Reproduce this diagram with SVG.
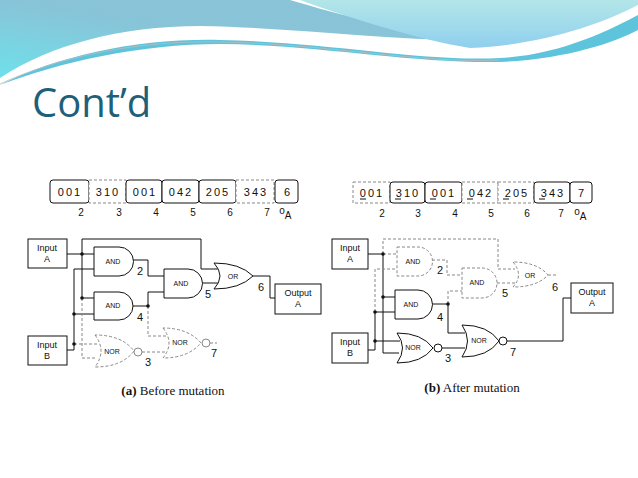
<svg xmlns="http://www.w3.org/2000/svg" width="638" height="478" viewBox="0 0 638 478">
<defs>
<linearGradient id="gl" x1="0" y1="1" x2="1" y2="0"><stop offset="0" stop-color="#6fe0ea"/><stop offset="0.5" stop-color="#88c4d8"/><stop offset="1" stop-color="#8bc3d8"/></linearGradient>
<linearGradient id="gr" x1="0" y1="0" x2="0" y2="1"><stop offset="0" stop-color="#b3e6e8"/><stop offset="1" stop-color="#8fcfee"/></linearGradient>
<style>
.s{fill:#fff;stroke:#111;stroke-width:1}
.d{fill:#fff;stroke:#888;stroke-width:1;stroke-dasharray:3 2}
.w{fill:none;stroke:#111;stroke-width:1}
.wd{fill:none;stroke:#888;stroke-width:1;stroke-dasharray:3 2}
.dot{fill:#111}
text{font-family:"Liberation Sans",Arial,sans-serif;fill:#111}
.g{font-size:7px;text-anchor:middle}
.b{font-size:9px;text-anchor:middle}
.l{font-size:10px;text-anchor:middle}
.n{font-size:11px;text-anchor:middle}
.c{font-size:11px;letter-spacing:2px;text-anchor:middle}
.cap{font-family:"Liberation Serif",serif;font-size:13px;text-anchor:middle}
</style>
</defs>
<rect width="638" height="478" fill="#fff"/>
<g id="header">
<path d="M0,0 H290 C340,15 400,30 470,40 C380,40 300,28 200,26 C120,26 50,45 0,78 Z" fill="url(#gl)"/>
<path d="M300,0 H638 V5 C600,25 540,45 470,48 C420,40 350,18 300,0 Z" fill="url(#gr)"/>
<path d="M0,85 C60,55 140,38 220,40 C330,42 420,62 500,58 C560,55 610,30 638,15 V30 C600,50 540,62 490,62 C400,62 320,45 220,44 C140,44 60,62 0,85 Z" fill="#5ec4dc"/>
<path d="M0,84 C60,56 140,40 220,42 C330,44 420,64 500,60" fill="none" stroke="#bbb" stroke-width="0.8"/>
</g>
<text x="32" y="117" style="font-family:'Open Sans',sans-serif;font-size:40px;fill:#1f5f7a">Cont’d</text>

<g id="panelA">
<g id="chromA">
<rect x="50" y="180" width="39" height="23" rx="3" class="s"/>
<rect x="89" y="180" width="37" height="23" class="d"/>
<rect x="126" y="180" width="36" height="23" rx="3" class="s"/>
<rect x="162" y="180" width="37" height="23" rx="3" class="s"/>
<rect x="199" y="180" width="37" height="23" rx="3" class="s"/>
<rect x="236" y="180" width="38" height="23" class="d"/>
<rect x="275" y="180" width="23" height="23" rx="3" class="s"/>
<text x="70" y="196" class="c">001</text><text x="108" y="196" class="c">310</text><text x="145" y="196" class="c">001</text><text x="181" y="196" class="c">042</text><text x="218" y="196" class="c">205</text><text x="256" y="196" class="c">343</text><text x="287" y="196" class="n">6</text>
<text x="81" y="216" class="l">2</text><text x="119" y="216" class="l">3</text><text x="156" y="216" class="l">4</text><text x="193" y="216" class="l">5</text><text x="230" y="216" class="l">6</text><text x="267" y="216" class="l">7</text>
<text x="282" y="214" class="l">o</text><text x="288" y="219" class="l">A</text>
</g>
<g id="connA">
<path class="w" d="M67,254 H94 M82,254 V298 H94 M82,254 V239 H201 V269 H218 M67,350 H74 V269 H94 M74,314 H94 M133,260 H148 V276 H164 M133,306 H148 V292 H164 M202,283 H220 M253,276 H270 V298 H275"/>
<path class="wd" d="M74,344 H97 M82,298 V358 H97 M148,306 V336 H166 M142,352 H166 M210,343 H217"/>
<circle class="dot" cx="82" cy="254" r="1.8"/><circle class="dot" cx="82" cy="298" r="1.8"/><circle class="dot" cx="74" cy="314" r="1.8"/><circle class="dot" cx="74" cy="344" r="1.8"/><circle class="dot" cx="148" cy="306" r="1.8"/>
</g>
<g id="inA"><rect x="28" y="239" width="39" height="29" class="s"/><text x="47" y="251" class="b">Input</text><text x="47" y="262" class="b">A</text></g>
<g id="inB"><rect x="28" y="336" width="39" height="29" class="s"/><text x="47" y="348" class="b">Input</text><text x="47" y="359" class="b">B</text></g>
<g id="outA"><rect x="275" y="284" width="46" height="30" class="s"/><text x="298" y="296" class="b">Output</text><text x="298" y="307" class="b">A</text></g>
<g id="and2"><path class="s" d="M94,247 H119 A14.5,14.5 0 0 1 119,276 H94 Z"/><text x="113" y="264" class="g">AND</text></g>
<g id="and4"><path class="s" d="M94,292 H119 A14,14 0 0 1 119,320 H94 Z"/><text x="113" y="308" class="g">AND</text></g>
<g id="and5"><path class="s" d="M164,269 H188 A14.5,14.5 0 0 1 188,298 H164 Z"/><text x="181" y="286" class="g">AND</text></g>
<g id="or6"><path class="s" d="M214,263 Q226,276 214,289 Q240,289 253,276 Q240,263 214,263 Z"/><text x="233" y="279" class="g">OR</text></g>
<g id="nor3"><path class="d" d="M95,335 Q107,351 95,367 Q122,367 134,351 Q122,335 95,335 Z"/><circle cx="138" cy="352" r="4" class="d" style="stroke-dasharray:none"/><text x="112" y="354" class="g">NOR</text></g>
<g id="nor7"><path class="d" d="M163,328 Q175,343 163,358 Q188,358 201,343 Q188,328 163,328 Z"/><circle cx="206" cy="343" r="4" class="d" style="stroke-dasharray:none"/><text x="180" y="345" class="g">NOR</text></g>
<text x="140" y="275" class="n">2</text><text x="140" y="321" class="n">4</text><text x="208" y="298" class="n">5</text><text x="261" y="291" class="n">6</text><text x="148" y="366" class="n">3</text><text x="214" y="357" class="n">7</text>
<text x="173" y="395" class="cap"><tspan font-weight="bold">(a)</tspan> Before mutation</text>
</g>

<g id="panelB">
<g id="chromB">
<rect x="353" y="182" width="37" height="21" class="d"/>
<rect x="390" y="182" width="35" height="21" rx="3" class="s"/>
<rect x="425" y="182" width="37" height="21" rx="3" class="s"/>
<rect x="462" y="182" width="36" height="21" class="d"/>
<rect x="498" y="182" width="36" height="21" class="d"/>
<rect x="534" y="182" width="36" height="21" rx="3" class="s"/>
<rect x="570" y="182" width="22" height="21" rx="3" class="s"/>
<text x="372" y="197" class="c">001</text><text x="408" y="197" class="c">310</text><text x="444" y="197" class="c">001</text><text x="481" y="197" class="c">042</text><text x="517" y="197" class="c">205</text><text x="553" y="197" class="c">343</text><text x="581" y="197" class="n">7</text>
<path class="w" d="M360,199 h6 M395,199 h6 M430,199 h6 M467,199 h6 M503,199 h6 M539,199 h6"/>
<text x="382" y="217" class="l">2</text><text x="418" y="217" class="l">3</text><text x="455" y="217" class="l">4</text><text x="491" y="217" class="l">5</text><text x="527" y="217" class="l">6</text><text x="561" y="217" class="l">7</text>
<text x="577" y="215" class="l">o</text><text x="583" y="220" class="l">A</text>
</g>
<g id="connB">
<path class="w" d="M368,254 H383 V353 H399 M383,297 H395 M368,350 H375 V312 H395 M375,341 H400 M432,304 H448 V333 H465 M442,348 H465 M507,341 H563 V298 H571"/>
<path class="wd" d="M383,254 H397 M383,254 V239 H498 V269 H515 M375,312 V269 H397 M432,260 H447 V275 H462 M448,304 V291 H462 M497,283 H517 M548,275 H558"/>
<circle class="dot" cx="383" cy="254" r="1.8"/><circle class="dot" cx="383" cy="297" r="1.8"/><circle class="dot" cx="375" cy="312" r="1.8"/><circle class="dot" cx="375" cy="341" r="1.8"/><circle class="dot" cx="448" cy="304" r="1.8"/>
</g>
<g id="inA2"><rect x="332" y="239" width="36" height="30" class="s"/><text x="350" y="251" class="b">Input</text><text x="350" y="262" class="b">A</text></g>
<g id="inB2"><rect x="332" y="333" width="36" height="30" class="s"/><text x="350" y="345" class="b">Input</text><text x="350" y="356" class="b">B</text></g>
<g id="outA2"><rect x="571" y="283" width="42" height="30" class="s"/><text x="592" y="295" class="b">Output</text><text x="592" y="306" class="b">A</text></g>
<g id="and2b"><path class="d" d="M397,247 H418 A14.5,14.5 0 0 1 418,276 H397 Z"/><text x="413" y="264" class="g">AND</text></g>
<g id="and4b"><path class="s" d="M395,290 H418 A14.5,14.5 0 0 1 418,319 H395 Z"/><text x="411" y="307" class="g">AND</text></g>
<g id="and5b"><path class="d" d="M462,268 H482 A15,15 0 0 1 482,298 H462 Z"/><text x="477" y="285" class="g">AND</text></g>
<g id="or6b"><path class="d" d="M513,262 Q524,275 513,287 Q537,287 548,275 Q537,262 513,262 Z"/><text x="530" y="278" class="g">OR</text></g>
<g id="nor3b"><path class="s" d="M397,333 Q408,348 397,363 Q422,363 433,348 Q422,333 397,333 Z"/><circle cx="438" cy="348" r="4" class="s"/><text x="413" y="350" class="g">NOR</text></g>
<g id="nor7b"><path class="s" d="M462,325 Q473,341 462,357 Q488,357 499,341 Q488,325 462,325 Z"/><circle cx="503" cy="341" r="4" class="s"/><text x="479" y="343" class="g">NOR</text></g>
<text x="440" y="274" class="n">2</text><text x="440" y="321" class="n">4</text><text x="448" y="362" class="n">3</text><text x="513" y="356" class="n">7</text><text x="505" y="297" class="n">5</text><text x="555" y="291" class="n">6</text>
<text x="472" y="392" class="cap"><tspan font-weight="bold">(b)</tspan> After mutation</text>
</g>
</svg>
